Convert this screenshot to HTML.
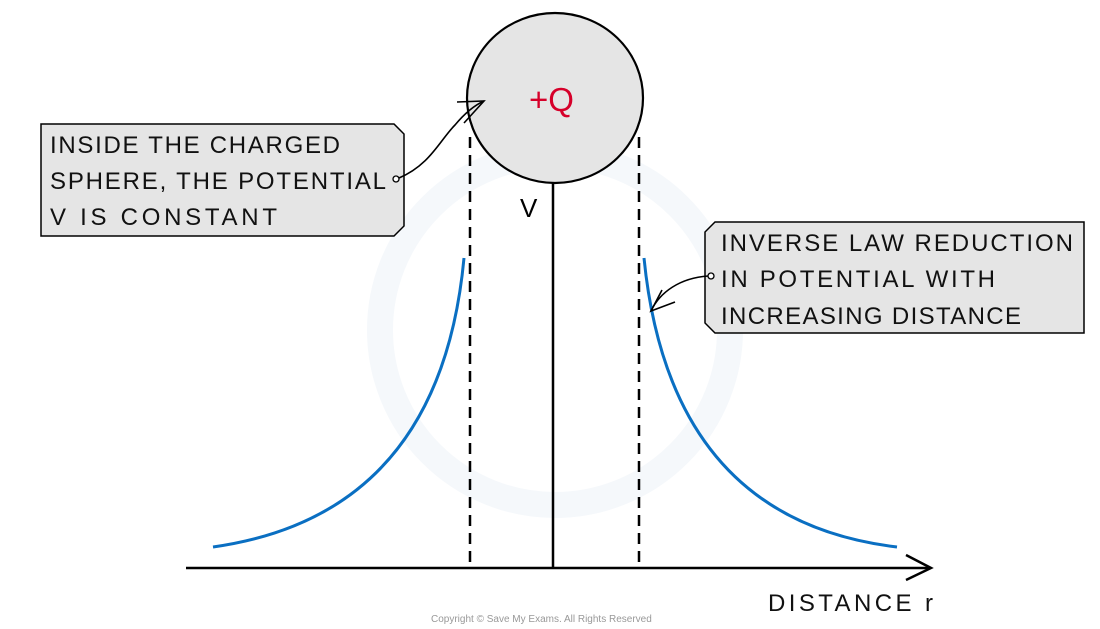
<!DOCTYPE html>
<html><head><meta charset="utf-8"><style>body{margin:0;background:#fff}svg{display:block}</style></head>
<body>
<svg width="1100" height="629" viewBox="0 0 1100 629" xmlns="http://www.w3.org/2000/svg" font-family="Liberation Sans, DejaVu Sans, sans-serif">
<!-- faint watermark -->
<circle cx="555" cy="330" r="175" fill="none" stroke="#f5f8fb" stroke-width="26"/>
<!-- axes -->
<line x1="186" y1="568" x2="928" y2="568" stroke="#000" stroke-width="2.5"/>
<path d="M906 555 L931 568 L906 580" fill="none" stroke="#000" stroke-width="2.5"/>
<line x1="553" y1="183" x2="553" y2="568" stroke="#000" stroke-width="2.5"/>
<line x1="470" y1="137" x2="470" y2="566" stroke="#000" stroke-width="2.5" stroke-dasharray="11,7"/>
<line x1="639" y1="137" x2="639" y2="566" stroke="#000" stroke-width="2.5" stroke-dasharray="11,7"/>
<!-- sphere -->
<ellipse cx="555" cy="98" rx="88" ry="85" fill="#e5e5e5" stroke="#000" stroke-width="2.2"/>
<text x="529" y="111" font-size="33" fill="#d6002a">+Q</text>
<text x="520" y="217" font-size="26" fill="#000">V</text>
<!-- curves -->
<path d="M213 547 Q440 515 464 258" fill="none" stroke="#0a6fc2" stroke-width="3"/>
<path d="M644 258 Q670 520 897 547" fill="none" stroke="#0a6fc2" stroke-width="3"/>
<!-- left box -->
<path d="M41 124 L394 124 L404 134 L404 226 L394 236 L41 236 Z" fill="#e5e5e5" stroke="#000" stroke-width="1.5"/>
<g font-size="24" fill="#111">
<text x="50" y="153" textLength="290" lengthAdjust="spacing">INSIDE THE CHARGED</text>
<text x="50" y="189" textLength="336" lengthAdjust="spacing">SPHERE, THE POTENTIAL</text>
<text x="50" y="225" textLength="227" lengthAdjust="spacing">V IS CONSTANT</text>
</g>
<circle cx="396" cy="179" r="3" fill="#fff" stroke="#000" stroke-width="1.3"/>
<path d="M399 178 C430 165 440 140 455 125 C465 113 475 105 484 101" fill="none" stroke="#000" stroke-width="1.6"/>
<path d="M457 102 L484 101 L464 123" fill="none" stroke="#000" stroke-width="1.6"/>
<!-- right box -->
<path d="M715 222 L1084 222 L1084 333 L715 333 L705 323 L705 232 Z" fill="#e5e5e5" stroke="#000" stroke-width="1.5"/>
<g font-size="24" fill="#111">
<text x="721" y="251" textLength="352" lengthAdjust="spacing">INVERSE LAW REDUCTION</text>
<text x="721" y="287" textLength="274" lengthAdjust="spacing">IN POTENTIAL WITH</text>
<text x="721" y="324" textLength="300" lengthAdjust="spacing">INCREASING DISTANCE</text>
</g>
<circle cx="711" cy="276" r="3" fill="#fff" stroke="#000" stroke-width="1.3"/>
<path d="M708 276 C680 278 660 292 651 311" fill="none" stroke="#000" stroke-width="1.6"/>
<path d="M662 290 L651 311 L675 302" fill="none" stroke="#000" stroke-width="1.6"/>
<!-- labels -->
<text x="768" y="611" font-size="24" fill="#111" textLength="165" lengthAdjust="spacing">DISTANCE r</text>
<text x="431" y="622" font-size="10" fill="#999">Copyright © Save My Exams. All Rights Reserved</text>
</svg>
</body></html>
